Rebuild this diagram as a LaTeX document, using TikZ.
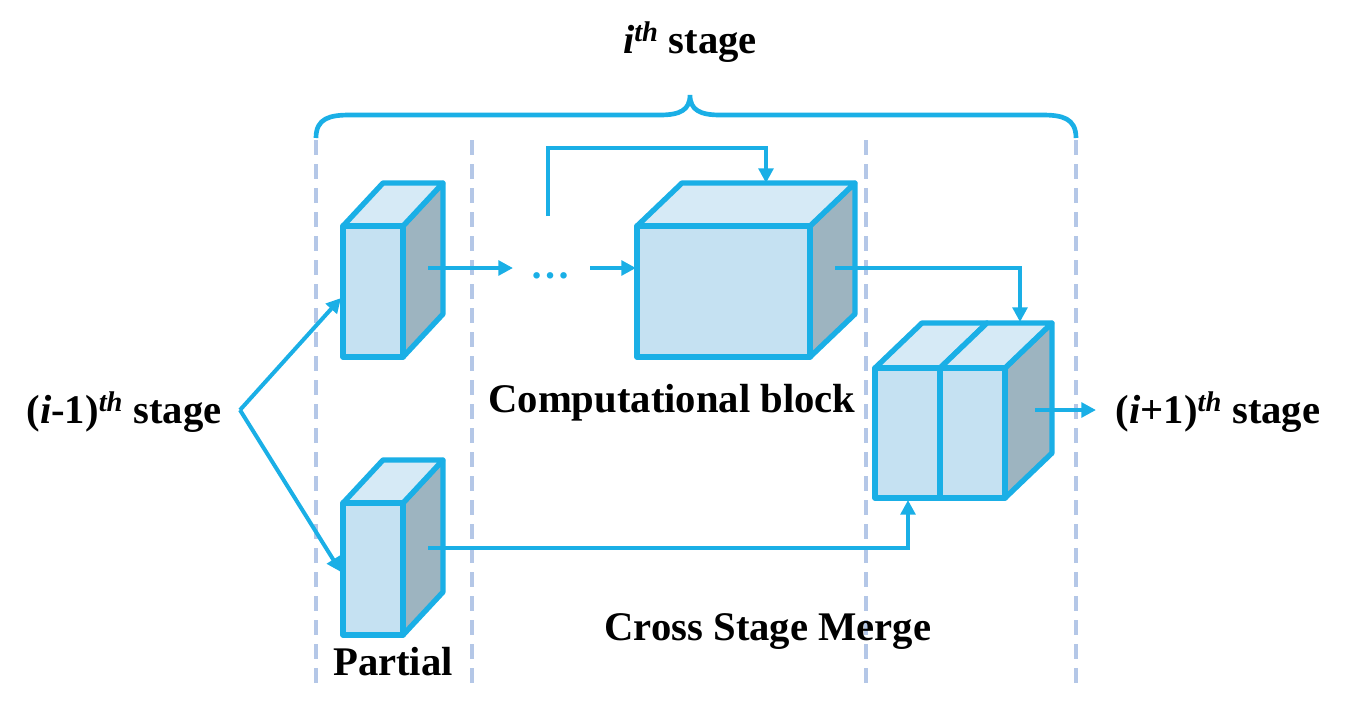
\documentclass[tikz,border=0pt]{standalone}
\usepackage{fontspec}
\setmainfont{Liberation Serif}
\usetikzlibrary{arrows.meta}
\definecolor{edge}{HTML}{1AAFE6}
\definecolor{front}{HTML}{C5E1F2}
\definecolor{side}{HTML}{9DB4C0}
\definecolor{topc}{HTML}{D6EAF6}
\definecolor{dash}{HTML}{B4C7E7}
\tikzset{
 face/.style={draw=edge,line width=4pt,line join=round},
 conn/.style={draw=edge,line width=3pt,-{Triangle[length=11pt,width=11pt]}},
 sep/.style={draw=dash,line width=2.8pt,dash pattern=on 11pt off 7pt},
 lbl/.style={font=\bfseries\fontsize{30.5}{34}\selectfont,inner sep=0pt}
}
% x y w h dx dy
\newcommand{\mycube}[6]{%
 \fill[side,face] (#1+#3,#2) -- ++(#5,-#6) -- ++(0,#4) -- ++(-#5,#6) -- cycle;
 \fill[topc,face] (#1,#2) -- ++(#5,-#6) -- ++(#3,0) -- ++(-#5,#6) -- cycle;
 \fill[front,face] (#1,#2) rectangle ++(#3,#4);
}
\begin{document}
\begin{tikzpicture}[x=0.75pt,y=-0.75pt]
\useasboundingbox (0,0) rectangle (1348,711);
\foreach \x in {316,472,866,1076} \draw[sep] (\x,140) -- (\x,690);
\draw[edge,line width=3.5pt]
 (316,138) .. controls (316,118) and (330,115) .. (350,115) -- (660,115)
 .. controls (680,115) and (690,110) .. (690,95)
 .. controls (690,110) and (700,115) .. (720,115) -- (1042,115)
 .. controls (1062,115) and (1076,118) .. (1076,138);
\node[lbl] (ith) at (690,42) {\textit{i}\textsuperscript{\textit{th}} stage};
\mycube{343}{226}{60}{131}{40}{43}
\mycube{343}{503}{60}{132}{40}{43}
\mycube{637}{226}{173}{131}{45}{43}
\mycube{875}{368}{65}{130}{47}{45}
\mycube{940}{368}{65}{130}{47}{45}
\node[lbl] (prev) at (124,412) {(\textit{i}-1)\textsuperscript{\textit{th}} stage};
\node[lbl] (next) at (1218,412) {(\textit{i}+1)\textsuperscript{\textit{th}} stage};
\node[lbl] (comp) at (672,403) {Computational block};
\node[lbl] (part) at (393,662) {Partial};
\node[lbl] (csm) at (768,632) {Cross Stage Merge};
\node[font=\bfseries\fontsize{30}{34}\selectfont,text=edge,inner sep=0pt] (dots) at (550,276) {\dots};
\coordinate (src) at (240,410);
\draw[conn] (src) -- (341,298);
\draw[conn] (src) -- (341,572);
\draw[conn] (428,268) -- (513,268);
\draw[conn] (590,268) -- (636,268);
\draw[conn] (548,216) -- (548,148) -- (766,148) -- (766,183);
\draw[conn] (835,268) -- (1020,268) -- (1020,322);
\draw[conn] (428,548) -- (908,548) -- (908,500);
\draw[conn] (1035,410) -- (1096,410);
\end{tikzpicture}
\end{document}
